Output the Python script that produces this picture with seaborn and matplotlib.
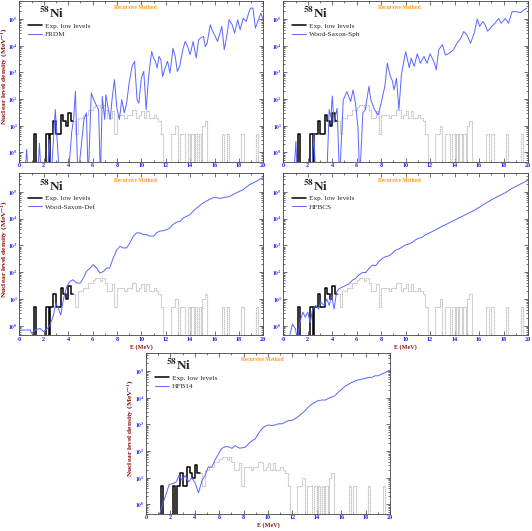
import numpy as np
import matplotlib
matplotlib.use('Agg')
import matplotlib.pyplot as plt
import seaborn as sns
from matplotlib.ticker import FixedLocator, FixedFormatter, MultipleLocator, LogLocator, NullFormatter

# experimental low-lying levels of 58Ni, binned (MeV^-1)
exp_edges = [0.0, 1.2, 1.4, 2.2, 2.4, 2.5, 2.8, 3.0, 3.4, 3.6, 3.8, 4.0, 4.2, 4.4,
             4.6, 4.8, 5.2, 5.6, 6.0, 6.2, 6.6, 6.8, 7.0, 7.2, 7.6, 7.8, 8.0, 8.6,
             8.8, 9.2, 9.6, 9.8, 10.0, 10.2, 10.4, 10.6, 11.0, 11.2, 11.4, 11.6,
             11.8, 12.4, 12.8, 13.0, 13.2, 13.6, 13.8, 14.0, 14.1, 14.3, 14.4,
             14.6, 14.7, 14.9, 15.0, 15.2, 15.4, 16.6, 16.8, 17.0, 17.2, 18.2,
             18.4, 19.4, 19.6, 20.0]
exp_density = [0, 5, 0, 5, 0, 5, 15, 5, 25, 15, 10, 30, 15,
               15, 5, 20, 25, 40, 50, 60, 45, 60, 40, 20, 35, 5, 25,
               20, 25, 40, 20, 25, 35, 20, 35, 20, 25, 20, 15,
               5, 0, 5, 10, 0, 5, 0, 5, 0, 5, 0,
               5, 0, 5, 0, 10, 15, 0, 5, 0, 5, 0,
               5, 0, 5, 0]
exp_complete_until = 4.4

# recursive-method level densities
frdm_e = [0.45, 0.6, 0.75, 1.5, 1.65, 1.8, 2.3, 2.45, 2.6, 2.95, 3.1, 3.3, 4.0, 4.3,
          4.45, 4.6, 4.8, 5.3, 5.5, 5.65, 5.9, 6.1, 6.3, 6.5, 6.65, 6.8, 7.0, 7.1,
          7.3, 7.45, 7.6, 7.8, 8.0, 8.2, 8.4, 8.6, 8.8, 9.0, 9.25, 9.45, 9.65, 9.8,
          10.0, 10.2, 10.4, 10.6, 10.85, 11.0, 11.15, 11.3, 11.45, 11.6, 11.75,
          11.95, 12.15, 12.35, 12.6, 12.8, 12.95, 13.15, 13.4, 13.6, 13.8, 14.0,
          14.25, 14.5, 14.7, 14.85, 15.1, 15.25, 15.4, 15.65, 15.85, 16.0, 16.25,
          16.45, 16.6, 16.8, 17.0, 17.2, 17.45, 17.65, 17.9, 18.1, 18.35, 18.6,
          18.8, 18.95, 19.15, 19.35, 19.6, 19.8, 20.0]
frdm_rho = [0.1, 1.3, 0.1, 0.1, 2.2, 0.1, 0.1, 3.0, 0.1, 40, 3.0, 0.1, 0.1, 6,
            17, 195, 0.1, 17, 30, 0.1, 170, 95, 60, 40, 0.1, 125, 17, 145,
            40, 17, 95, 530, 46, 17, 95, 30, 70, 400, 1700, 2600, 95, 70,
            610, 1090, 40, 700, 6100, 3500, 2600, 1460, 4000, 3000, 700,
            1460, 2600, 940, 8100, 3500, 1090, 1680, 7100, 14500, 9400, 4600,
            14500, 3500, 16800, 19400, 22400, 9400, 12600, 61000, 34600, 26000, 14500,
            29900, 53000, 7100, 22400, 94000, 61000, 29900, 94000, 39800, 109000, 81600,
            168000, 259000, 259000, 46000, 94000, 168000, 94000]

wss_e = [0.85, 1.03, 1.15, 2.3, 2.5, 2.65, 3.55, 3.75, 3.9, 4.0, 4.15, 4.4, 4.6, 4.9,
         5.2, 5.5, 5.7, 5.9, 6.1, 6.25, 6.5, 6.7, 7.0, 7.15, 7.45, 7.75, 8.0, 8.3,
         8.5, 8.75, 8.9, 9.05, 9.25, 9.45, 9.65, 10.0, 10.3, 10.45, 10.7, 10.95,
         11.2, 11.5, 11.75, 12.0, 12.3, 12.5, 12.7, 13.0, 13.25, 13.5, 13.9, 14.2,
         14.5, 14.75, 15.0, 15.3, 15.6, 15.85, 16.05, 16.3, 16.5, 16.7, 17.05,
         17.3, 17.6, 17.8, 18.15, 18.4, 18.7, 19.0, 19.4, 19.65, 19.9]
wss_rho = [0.1, 2.6, 0.1, 0.1, 5, 0.1, 0.1, 40, 20, 130, 13, 45, 0.1, 90,
           190, 80, 220, 70, 9, 0.1, 30, 40, 300, 95, 40, 25, 70, 300,
           2200, 700, 500, 220, 600, 40, 800, 6000, 1500, 3400, 1700, 5000,
           2200, 4000, 2200, 5000, 2600, 1250, 7000, 11000, 4500, 5000, 7000, 12500,
           19000, 34000, 26000, 12500, 29000, 100000, 53000, 80000, 61000, 35000, 53000,
           70000, 105000, 70000, 105000, 70000, 190000, 190000, 175000, 220000, 260000]

wsd_e = [0.0, 0.9, 1.0, 1.3, 1.7, 2.0, 2.25, 2.5, 2.8, 3.0, 3.2, 3.4, 3.6, 3.9,
         4.15, 4.4, 4.7, 5.0, 5.25, 5.5, 5.8, 6.05, 6.35, 6.6, 6.9, 7.15, 7.4,
         7.7, 8.0, 8.25, 8.5, 8.8, 9.05, 9.35, 9.6, 9.9, 10.15, 10.45, 10.7, 11.0,
         11.25, 11.5, 11.8, 12.1, 12.35, 12.6, 12.9, 13.2, 13.45, 13.7, 14.0,
         14.25, 14.55, 14.8, 15.1, 15.35, 15.6, 15.9, 16.2, 16.45, 16.7, 17.0,
         17.3, 17.55, 17.8, 18.1, 18.35, 18.65, 18.9, 19.2, 19.45, 19.7, 20.0]
wsd_rho = [0.69, 0.69, 0.52, 0.69, 0.79, 0.6, 0.75, 1.0, 2.5, 6.9, 4.5, 2.5, 9.2, 29,
           45, 52, 39, 39, 60, 106, 141, 188, 141, 92, 106, 141, 141,
           335, 690, 920, 800, 800, 1220, 2200, 2900, 2900, 2500, 2500, 2200, 2200,
           2900, 3400, 3500, 3900, 4500, 6000, 7300, 8000, 10600, 12000, 14000,
           19000, 25000, 31000, 39000, 45000, 52000, 60000, 60000, 56000, 60000, 63000,
           69000, 80000, 92000, 106000, 120000, 155000, 188000, 217000, 250000, 290000, 335000]

hfbcs_e = [0.2, 0.75, 1.0, 1.15, 1.35, 1.6, 1.8, 2.0, 2.2, 2.4, 2.65, 2.9, 3.05, 3.35,
           3.55, 3.75, 3.95, 4.15, 4.35, 4.55, 4.85, 5.1, 5.4, 5.65, 5.9, 6.2, 6.5,
           6.75, 7.0, 7.3, 7.55, 7.8, 8.1, 8.35, 8.65, 8.9, 9.2, 9.45, 9.7, 10.0,
           10.25, 10.55, 10.8, 11.1, 11.35, 11.6, 12.2, 12.7, 13.25, 13.8, 14.35,
           14.9, 15.45, 16.0, 16.5, 17.05, 17.6, 18.15, 18.7, 19.25, 20.0]
hfbcs_rho = [0.1, 1.15, 0.75, 0.3, 1.3, 3.2, 2.1, 3.2, 1.3, 4.2, 5.7, 4.2, 7.6, 5.7,
             10, 5.7, 13.5, 4.2, 18, 24, 28, 32, 37, 50, 57, 81, 97,
             97, 137, 183, 172, 243, 325, 375, 410, 500, 670, 735, 850, 1040,
             1100, 1300, 1600, 1850, 2000, 2450, 3300, 4400, 5900, 7800, 10500,
             14000, 18600, 26000, 36000, 51000, 69000, 92000, 134000, 180000, 270000]

hfb14_e = [1.0, 1.9, 2.2, 2.5, 2.7, 2.95, 3.2, 3.5, 3.75, 4.05, 4.3, 4.6, 4.85, 5.1,
           5.4, 5.65, 5.95, 6.2, 6.5, 6.75, 7.05, 7.3, 7.6, 7.85, 8.15, 8.4, 8.7,
           8.95, 9.2, 9.5, 9.75, 10.05, 10.3, 10.6, 10.85, 11.15, 11.4, 11.7, 11.95,
           12.2, 12.5, 12.75, 13.05, 13.3, 13.6, 13.85, 14.1, 14.4, 14.7, 14.95,
           15.2, 15.5, 15.75, 16.05, 16.3, 16.6, 16.85, 17.15, 17.4, 17.7, 17.95,
           18.25, 18.5, 18.8, 19.05, 19.3, 19.6, 20.0]
hfb14_rho = [0.3, 5.5, 6, 7, 12, 8, 12, 7, 10, 6, 2.7, 8, 12, 25,
             25, 45, 80, 125, 145, 145, 125, 160, 130, 130, 140, 185, 245,
             285, 440, 680, 850, 950, 900, 950, 1050, 1050, 1200, 1400, 1400,
             1600, 2000, 2500, 3300, 4400, 5800, 6700, 7800, 8200, 8200, 9500,
             10500, 12000, 16000, 21000, 27000, 32000, 37000, 43000, 47000, 50000, 53000,
             58000, 58000, 67000, 67000, 77000, 88000, 110000]

models = ['FRDM', 'Wood-Saxon-Sph', 'Wood-Saxon-Def', 'HFBCS', 'HFB14']
model_e = [frdm_e, wss_e, wsd_e, hfbcs_e, hfb14_e]
model_rho = [frdm_rho, wss_rho, wsd_rho, hfbcs_rho, hfb14_rho]

sns.set_style('ticks')
plt.rcParams['font.family'] = ['Liberation Serif', 'DejaVu Serif']
plt.rcParams['mathtext.fontset'] = 'stix'

BLUE = '#5866ff'
TICKBLUE = '#1c1cff'
DARKRED = '#8b1414'

fig = plt.figure(figsize=(5.32, 5.31), dpi=100)
W = 532.0
H = 531.0
# axes boxes in pixels: left, top, right, bottom
boxes = [(19.3, 0.5, 263.3, 161.5), (283.3, 0.5, 528.0, 161.5),
         (19.3, 173.0, 263.3, 335.0), (283.3, 173.0, 528.0, 335.0),
         (146.0, 352.5, 390.0, 513.5)]

edges = np.array(exp_edges)
dens = np.array(exp_density, dtype=float)
dens = np.where(dens > 0, dens, 1e-2)
k = int(np.argmin(np.abs(edges - exp_complete_until)))

for i, (name, e, rho) in enumerate(zip(models, model_e, model_rho)):
    l, t, r, b = boxes[i]
    ax = fig.add_axes([l / W, 1 - b / H, (r - l) / W, (b - t) / H])

    # incomplete part of experimental levels (grey)
    sns.lineplot(x=edges[k:], y=np.append(dens[k:], dens[-1]), ax=ax,
                 drawstyle='steps-post', color='#bdbdbd', lw=0.8,
                 linestyle=(0, (1.2, 0.6)), estimator=None, sort=False)
    # complete part (black)
    sns.lineplot(x=edges[:k + 1], y=np.append(dens[:k], dens[k - 1]), ax=ax,
                 drawstyle='steps-post', color='black', lw=1.1,
                 estimator=None, sort=False, label='Exp. low levels')
    sns.lineplot(x=np.array(e), y=np.array(rho), ax=ax, color=BLUE, lw=0.7,
                 estimator=None, sort=False, label=name)

    ax.set_yscale('log')
    ax.set_xlim(0, 20)
    ax.set_ylim(0.45, 5e5)
    ax.xaxis.set_major_locator(MultipleLocator(2))
    ax.xaxis.set_minor_locator(MultipleLocator(1))
    ax.yaxis.set_major_locator(FixedLocator([1, 10, 100, 1e3, 1e4, 1e5]))
    ax.yaxis.set_major_formatter(FixedFormatter([r'$\mathbf{10^{%d}}$' % p for p in range(6)]))
    ax.yaxis.set_minor_locator(LogLocator(base=10, subs=np.arange(2, 10)))
    ax.yaxis.set_minor_formatter(NullFormatter())
    ax.tick_params(which='both', direction='in', top=True, right=True,
                   width=0.5, colors='#333333', labelcolor=TICKBLUE, labelsize=4.4, pad=1.2)
    ax.tick_params(axis='y', labelsize=4.0, pad=1.0)
    ax.tick_params(which='major', length=3)
    ax.tick_params(which='minor', length=1.5)
    for lab in ax.get_xticklabels():
        lab.set_fontweight('bold')
    for s in ax.spines.values():
        s.set_linewidth(0.6)
        s.set_color('#444444')

    ax.set_xlabel('E (MeV)' if i >= 2 else '', color=DARKRED, fontsize=4.4,
                  fontweight='bold', labelpad=1.5)
    if i in (0, 2, 4):
        ax.set_ylabel(r'Nuclear level density (MeV$^{\mathbf{-1}}$)', color=DARKRED,
                      fontsize=5.4, fontweight='bold')
        ax.yaxis.set_label_coords(-0.039, 0.53)
    else:
        ax.set_ylabel('')

    ax.text(0.475, 0.955, 'Recursive Method', transform=ax.transAxes, ha='center',
            va='center', color='#ff9a1f', fontsize=4, fontweight='bold')
    ax.text(0.082, 0.92, r'$^{\mathbf{58}}$Ni', transform=ax.transAxes, ha='left',
            va='center', fontsize=9.5, fontweight='bold')
    ax.legend(loc='upper left', bbox_to_anchor=(0.035, 0.862), frameon=False,
              fontsize=5.2, handlelength=2.0, handletextpad=0.4, labelspacing=0.35,
              borderaxespad=0, borderpad=0)

fig.savefig('out.png', dpi=100)
